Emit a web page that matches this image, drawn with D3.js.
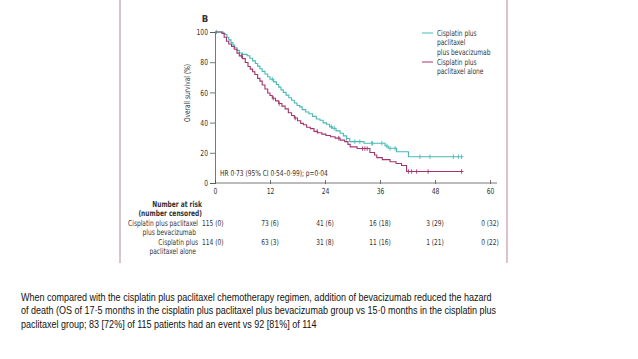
<!DOCTYPE html>
<html><head><meta charset="utf-8">
<script src="https://cdn.jsdelivr.net/npm/d3@7"></script>
<style>
html,body{margin:0;padding:0;background:#fff;}
svg{display:block;}
text{font-family:"Liberation Sans Narrow","DejaVu Sans Condensed","Liberation Sans",sans-serif;fill:#333;}
.cap{font-family:"Liberation Sans Narrow","Liberation Sans",sans-serif;fill:#111;}
</style></head>
<body>
<svg id="c" width="638" height="359"></svg>
<script>
// ---- data ----
const xTicks = [0, 12, 24, 36, 48, 60];
const yTicks = [0, 20, 40, 60, 80, 100];
const legendBev = ["Cisplatin plus", "paclitaxel", "plus bevacizumab"];
const legendAlone = ["Cisplatin plus", "paclitaxel alone"];
const hrText = "HR 0·73 (95% CI 0·54–0·99); p=0·04";
const riskBev = ["115 (0)", "73 (6)", "41 (6)", "16 (18)", "3 (29)", "0 (32)"];
const riskAlone = ["114 (0)", "63 (3)", "31 (8)", "11 (16)", "1 (21)", "0 (22)"];
const caption = [
  "When compared with the cisplatin plus paclitaxel chemotherapy regimen, addition of bevacizumab reduced the hazard",
  "of death (OS of 17·5 months in the cisplatin plus paclitaxel plus bevacizumab group vs 15·0 months in the cisplatin plus",
  "paclitaxel group; 83 [72%] of 115 patients had an event vs 92 [81%] of 114"
];
// survival steps [month, survival % after step]
const bevSteps = [[0,100],[1.8,99.1],[2.2,98.3],[2.6,96.5],[3.0,94.8],[3.5,93],[3.9,91.3],[4.3,89.6],[4.8,87.8],[5.3,86.1],[6.0,85.2],
  [7.0,84.3],[7.6,82.6],[8.2,80.9],[8.8,79.1],[9.3,77.4],[9.8,75.7],[10.3,73.9],[10.9,72.2],[11.5,70.4],[12.0,68.7],
  [12.8,67.0],[13.4,65.2],[13.9,63.5],[14.4,61.7],[14.9,60.0],[15.5,58.2],[16.1,56.5],[16.7,54.8],[17.3,53.0],[17.9,51.3],
  [18.5,50.4],[19.0,48.6],[19.8,47.0],[20.5,45.9],[21.3,44.1],[22.1,42.4],[22.9,41.6],[23.6,39.8],[24.3,38.9],[25.0,37.2],
  [25.6,36.3],[26.4,34.5],[27.3,32.9],[28.0,31.2],[28.7,29.5],[29.4,27.4],[32.5,26.3],[37.1,24.5],[37.8,23.0],[39.6,20.7],
  [42.2,17.4],[54.2,17.4]];
const aloneSteps = [[0,100],[1.5,99.1],[2.0,96.5],[2.5,93.9],[3.0,92.1],[3.6,90.4],[4.2,88.6],[4.8,86.0],[5.3,84.2],[6.0,82.4],
  [6.6,79.8],[7.2,77.2],[7.7,75.4],[8.2,73.7],[8.7,71.9],[9.3,69.3],[9.8,67.5],[10.3,64.9],[10.9,62.3],[11.5,59.6],[12.0,57.9],
  [12.5,56.1],[13.2,54.4],[13.9,52.6],[14.6,50.9],[15.3,49.1],[16.0,46.5],[16.7,44.7],[17.3,43.0],[18.0,41.2],[18.7,39.5],
  [19.3,38.6],[20.0,36.9],[20.8,36.0],[21.6,34.2],[22.4,33.3],[23.3,32.4],[24.2,31.5],[25.2,30.6],[26.2,29.7],[27.3,28.4],
  [28.3,27.4],[29.0,25.6],[29.5,23.9],[31.0,22.8],[33.8,20.2],[34.8,18.5],[35.3,16.8],[36.5,15.5],[38.2,14.1],[39.5,12.9],
  [40.7,11.6],[41.8,7.6],[54.2,7.6]];
const bevCensor = [0.3, 12.5, 25.4, 26.0, 28.7, 30.5, 31.6, 34.2, 34.4, 36.4, 37.5, 38.2, 39.3, 44.7, 46.9, 52.0, 53.1, 53.8];
const aloneCensor = [5.8, 12.7, 14.0, 17.5, 22.3, 27.0, 32.2, 32.7, 33.2, 42.2, 42.9, 44.0, 46.5, 53.8];

// ---- drawing ----
const teal = "#47b9b7", magenta = "#a4346c";
const svg = d3.select("#c");
const x = d3.scaleLinear().domain([0, 60]).range([215, 490]);
const y = d3.scaleLinear().domain([0, 100]).range([183, 32]);
const FS = 8.1;

// horizontal condensing factor so the chart font matches the narrow original
const probe = svg.append("text").attr("font-size", FS).text("Cisplatin plus paclitaxel");
const K = Math.min(1, 70 / probe.node().getComputedTextLength());
probe.remove();
// text placed with a horizontal squeeze (transform, so boxes stay exact)
function T(parent, px, py, str, anchor, opts = {}){
  const t = parent.append("text")
    .attr("transform", `translate(${px},${py})${opts.rot ? " rotate(" + opts.rot + ")" : ""} scale(${K},1)`)
    .attr("text-anchor", anchor || "start")
    .attr("font-size", opts.fs || FS)
    .text(str);
  if (opts.bold) t.attr("font-weight", "bold");
  return t;
}

// frame lines
svg.append("line").attr("x1",120).attr("x2",120).attr("y1",0).attr("y2",263).attr("stroke","#c9a3b6").attr("stroke-width",1.3);
svg.append("line").attr("x1",507).attr("x2",507).attr("y1",0).attr("y2",263).attr("stroke","#c9a3b6").attr("stroke-width",1.3);

// axes
const yAxis = svg.append("g").attr("transform","translate(215,0)")
  .call(d3.axisLeft(y).tickValues(yTicks).tickSize(5).tickPadding(2));
const xAxis = svg.append("g").attr("transform","translate(0,183)")
  .call(d3.axisBottom(x).tickValues(xTicks).tickSize(-3).tickPadding(5).tickSizeOuter(0));
xAxis.select(".domain").attr("d","M215,0H497");
[yAxis, xAxis].forEach(g => {
  g.selectAll("path,line").attr("stroke","#555").attr("stroke-width",0.8);
  g.selectAll("text").attr("font-size",8.3).attr("fill","#333")
   .style("font-family","'Liberation Sans Narrow','DejaVu Sans Condensed',sans-serif")
   .each(function(){
     const tx = +this.getAttribute("x") || 0;
     this.setAttribute("x", tx / K);
     this.setAttribute("transform", `scale(${K},1)`);
   });
});
xAxis.selectAll(".tick line").attr("y2",-3).attr("y1",1);

// title & labels
svg.append("text").attr("x",205).attr("y",22).attr("text-anchor","middle").attr("font-size",9.5).attr("font-weight","bold").text("B");
T(svg, 190, 93, "Overall survival (%)", "middle", {rot: -90});
T(svg, 220, 176, hrText, "start");

// curves
const line = d3.line().x(d => x(d[0])).y(d => y(d[1])).curve(d3.curveStepAfter);
function survAt(steps, t){ let s = steps[0][1]; for (const p of steps){ if (p[0] <= t) s = p[1]; } return s; }
[[bevSteps, bevCensor, teal], [aloneSteps, aloneCensor, magenta]].forEach(([steps, cens, col]) => {
  svg.append("path").attr("d", line(steps)).attr("fill","none").attr("stroke",col).attr("stroke-width",1.1);
  svg.append("g").selectAll("line").data(cens).join("line")
    .attr("x1", d => x(d)).attr("x2", d => x(d))
    .attr("y1", d => y(survAt(steps, d)) - 2.2).attr("y2", d => y(survAt(steps, d)) + 2.2)
    .attr("stroke", col).attr("stroke-width", 0.9);
});

// legend
const lg = svg.append("g");
lg.append("line").attr("x1",422).attr("x2",433).attr("y1",33).attr("y2",33).attr("stroke",teal).attr("stroke-width",1);
lg.append("line").attr("x1",422).attr("x2",433).attr("y1",62).attr("y2",62).attr("stroke",magenta).attr("stroke-width",1);
legendBev.forEach((s, i) => T(lg, 437, 35.8 + i * 9.5, s, "start"));
legendAlone.forEach((s, i) => T(lg, 437, 64.8 + i * 9.5, s, "start"));

// number at risk
T(svg, 202, 206.8, "Number at risk", "end", {bold: true});
T(svg, 202, 215.8, "(number censored)", "end", {bold: true});
const lab = [["Cisplatin plus paclitaxel",198,225.8],["plus bevacizumab",196,234.8],["Cisplatin plus",198,244.8],["paclitaxel alone",196,253.8]];
lab.forEach(d => T(svg, d[1], d[2], d[0], "end"));
function riskRow(vals, yy){
  vals.forEach((v, i) => {
    if (i === 0) T(svg, 202, yy, v, "start");
    else T(svg, x(xTicks[i]), yy, v, "middle");
  });
}
riskRow(riskBev, 225.8);
riskRow(riskAlone, 244.8);

// caption: ~11px text squeezed horizontally so line 1 spans the original width
const CFS = 10.8;
const cap = svg.selectAll("text.cap").data(caption).join("text").attr("class","cap")
  .attr("x",0).attr("y",0).attr("font-size",CFS).text(d=>d);
const cK = Math.min(1, 471 / cap.nodes()[0].getComputedTextLength());
cap.attr("transform", (d,i) => `translate(21,${300.5 + i * 13.5}) scale(${cK},1)`);
</script>
</body></html>
